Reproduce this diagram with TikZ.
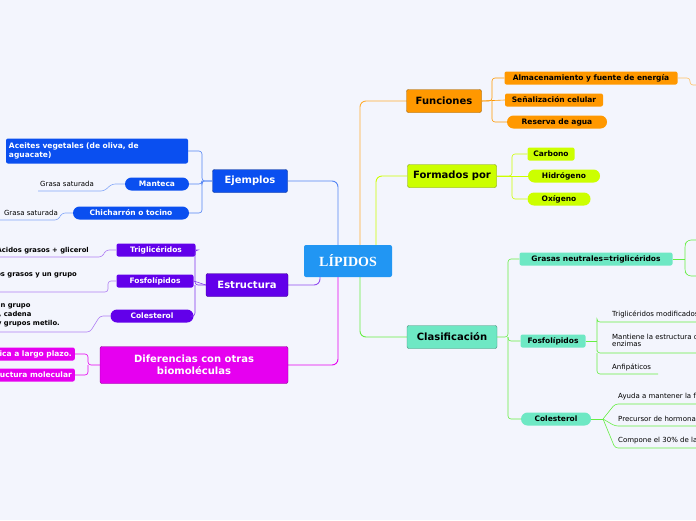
\documentclass[tikz,border=0pt]{standalone}
\usepackage{fontspec}
\setmainfont{DejaVu Sans}
\newfontfamily\rootfont{Liberation Serif}
\begin{document}
\begin{tikzpicture}[x=1pt,y=-1pt,
  every node/.style={inner sep=0pt},
  topic/.style={draw=#1!60!black,fill=#1,rounded corners=2pt,font=\fontsize{10}{11}\selectfont\bfseries,minimum height=23pt,text=black,align=center},
  sub/.style={fill=#1,rounded corners=2pt,font=\fontsize{7.5}{8.5}\selectfont\bfseries,minimum height=13pt,inner xsep=3pt},
  pill/.style={fill=#1,rounded corners=6.5pt,font=\fontsize{7.5}{8.5}\selectfont\bfseries,minimum height=13pt,inner xsep=3pt},
  leaf/.style={font=\fontsize{7}{10}\selectfont,anchor=west,align=left},
  bleaf/.style={font=\fontsize{6.8}{9}\selectfont\bfseries,anchor=east,align=left},
  con/.style={draw=#1,line width=0.9pt,rounded corners=6pt},
  thin/.style={draw=#1,line width=0.6pt,rounded corners=3pt}]
\definecolor{bg}{HTML}{F3F5FD}
\definecolor{cor}{HTML}{FF9800}
\definecolor{cye}{HTML}{CCFF00}
\definecolor{cgr}{HTML}{6EE8C4}
\definecolor{cgl}{HTML}{66EE44}
\definecolor{cbl}{HTML}{0A4FF0}
\definecolor{cpu}{HTML}{6200EA}
\definecolor{cma}{HTML}{E600F0}
\definecolor{croot}{HTML}{2196F3}
\useasboundingbox (0,0) rectangle (696,520);
\clip (0,0) rectangle (696,520);
\fill[bg] (0,0) rectangle (696,520);
% connectors
\draw[con=cor!80] (360,245) |- (407,101);
\draw[con=cye] (376,245) |- (407,176);
\draw[con=cgl] (360,277) |- (407,337);
\draw[con=cbl!70] (338,245) |- (288,181);
\draw[con=cpu!70] (320,277) |- (288,285);
\draw[con=cma] (338,277) |- (288,365);
% root
\node[fill=croot,rounded corners=2pt,minimum width=88pt,minimum height=32pt,text=white,font=\rootfont\fontsize{14}{15}\selectfont\bfseries] (root) at (348,261) {LÍPIDOS};
% Funciones
\node[topic=cor,minimum width=75pt] (fun) at (444,101) {Funciones};
\node[sub=cor,minimum width=173pt] (f1) at (591,78) {Almacenamiento y fuente de energía};
\node[sub=cor,minimum width=98pt] (f2) at (554,100) {Señalización celular};
\node[pill=cor,minimum width=100pt] (f3) at (557,122) {Reserva de agua};
\draw[thin=cor] (fun.east) -- (492,101) |- (f1.west);
\draw[thin=cor] (fun.east) -- (f2.west);
\draw[thin=cor] (492,101) |- (f3.west);
\draw[thin=cor!60] (f1.east) -- (690,78) |- (696,85);
% Formados por
\node[topic=cye,minimum width=89pt] (form) at (452,176) {Formados por};
\node[sub=cye,minimum width=47pt] (c1) at (551,154) {Carbono};
\node[pill=cye,minimum width=72pt] (c2) at (564,176) {Hidrógeno};
\node[pill=cye,minimum width=63pt] (c3) at (559,199) {Oxígeno};
\draw[thin=cye] (form.east) -- (512,176) |- (c1.west);
\draw[thin=cye] (form.east) -- (c2.west);
\draw[thin=cye] (512,176) |- (c3.west);
% Clasificacion
\node[topic=cgr,minimum width=90pt] (cla) at (452,337) {Clasificación};
\node[sub=cgr,minimum width=153pt] (g1) at (596,259) {Grasas neutrales=triglicéridos};
\node[sub=cgr,minimum width=65pt] (g2) at (553,341) {Fosfolípidos};
\node[pill=cgr,minimum width=70pt] (g3) at (556,419) {Colesterol};
\draw[thin=cgl] (cla.east) -- (508,337) |- (g1.west);
\draw[thin=cgl] (508,337) |- (g2.west);
\draw[thin=cgl] (508,337) |- (g3.west);
\draw[thin=cgl] (g1.east) -- (685,259);
\draw[thin=cgl] (696,240) -- (688,240) -- (685,244) -- (685,272) -- (688,276) -- (696,276);
% Fosfolipidos leaves
\node[leaf] (p1) at (612,314) {Triglicéridos modificados};
\node[leaf] (p2) at (612,340) {Mantiene la estructura de las\\[-3pt]enzimas};
\node[leaf] (p3) at (612,367) {Anfipáticos};
\draw[thin=cgl] (g2.east) -- (597,341);
\draw[thin=cgl] (597,322) |- (696,322);
\draw[thin=cgl] (597,322) |- (597,353) -- (696,353);
\draw[thin=cgl] (597,353) |- (658,374);
% Colesterol leaves
\node[leaf] (k1) at (618,397) {Ayuda a mantener la fluidez};
\node[leaf] (k2) at (618,419) {Precursor de hormonas};
\node[leaf] (k3) at (618,441) {Compone el 30\% de la membrana};
\draw[thin=cgl] (g3.east) -- (603,419);
\draw[thin=cgl] (603,419) -- (615,404) -- (696,404);
\draw[thin=cgl] (603,419) -- (615,426) -- (696,426);
\draw[thin=cgl] (603,419) -- (615,448) -- (696,448);
% Ejemplos
\node[topic=cbl,minimum width=75pt,text=white] (eje) at (250,181) {Ejemplos};
\node[sub=cbl,text=white,minimum width=182pt,minimum height=25pt,align=left,text width=176pt] (e1) at (97,151) {Aceites vegetales (de oliva, de\\aguacate)};
\node[pill=cbl,text=white,minimum width=64pt] (e2) at (157,184) {Manteca};
\node[pill=cbl,text=white,minimum width=116pt] (e3) at (131,213) {Chicharrón o tocino};
\draw[thin=cbl!70] (eje.west) -- (202,181) |- (e1.east);
\draw[thin=cbl!70] (eje.west) -- (202,181) |- (e2.east);
\draw[thin=cbl!70] (202,181) |- (e3.east);
\node[leaf] (l1) at (40,184) {Grasa saturada};
\node[leaf,anchor=east] (l2) at (58,213) {Grasa saturada};
\draw[thin=cbl!50] (e2.west) -- (112,184) -- (104,191) -- (38,191);
\draw[thin=cbl!50] (e3.west) -- (62,213) -- (58,220) -- (0,220);
% Estructura
\node[topic=cpu,minimum width=82pt,text=white] (est) at (247,285) {Estructura};
\node[sub=cpu,text=white,minimum width=79pt] (s1) at (156,250) {Triglicéridos};
\node[sub=cpu,text=white,minimum width=77pt] (s2) at (155,281) {Fosfolípidos};
\node[pill=cpu,text=white,minimum width=83pt] (s3) at (152,316) {Colesterol};
\draw[thin=cpu!80] (est.west) -- (195,285) |- (s1.east);
\draw[thin=cpu!80] (est.west) -- (s2.east);
\draw[thin=cpu!80] (195,285) |- (s3.east);
\node[bleaf] (t1) at (89,250) {Ácidos grasos + glicerol};
\node[bleaf,anchor=north east] (t2) at (77,271) {Dos ácidos grasos y un grupo\\fosfato};
\node[bleaf,anchor=north east] (t3) at (60,302) {Tiene un anillo, un grupo\\con doble enlace, cadena\\hidrocarbonada y grupos metilo.};
\draw[thin=cpu!50] (s1.west) -- (106,250) -- (102,257) -- (0,257);
\draw[thin=cpu!50] (s2.west) -- (108,281) |- (0,292);
\draw[thin=cpu!50] (s3.west) -- (100,316) -- (90,332) -- (0,332);
% Diferencias
\node[topic=cma,text=white,minimum width=188pt,minimum height=37pt,font=\fontsize{10}{12}\selectfont\bfseries] (dif) at (194,365) {Diferencias con otras\\biomoléculas};
\node[sub=cma,text=white,anchor=east] (d1) at (75,354) {Reserva energética a largo plazo.};
\node[sub=cma,text=white,anchor=east] (d2) at (75,375) {Estructura molecular};
\draw[thin=cma] (dif.west) -- (88,365) |- (d1.east);
\draw[thin=cma] (88,365) |- (d2.east);
\end{tikzpicture}
\end{document}
